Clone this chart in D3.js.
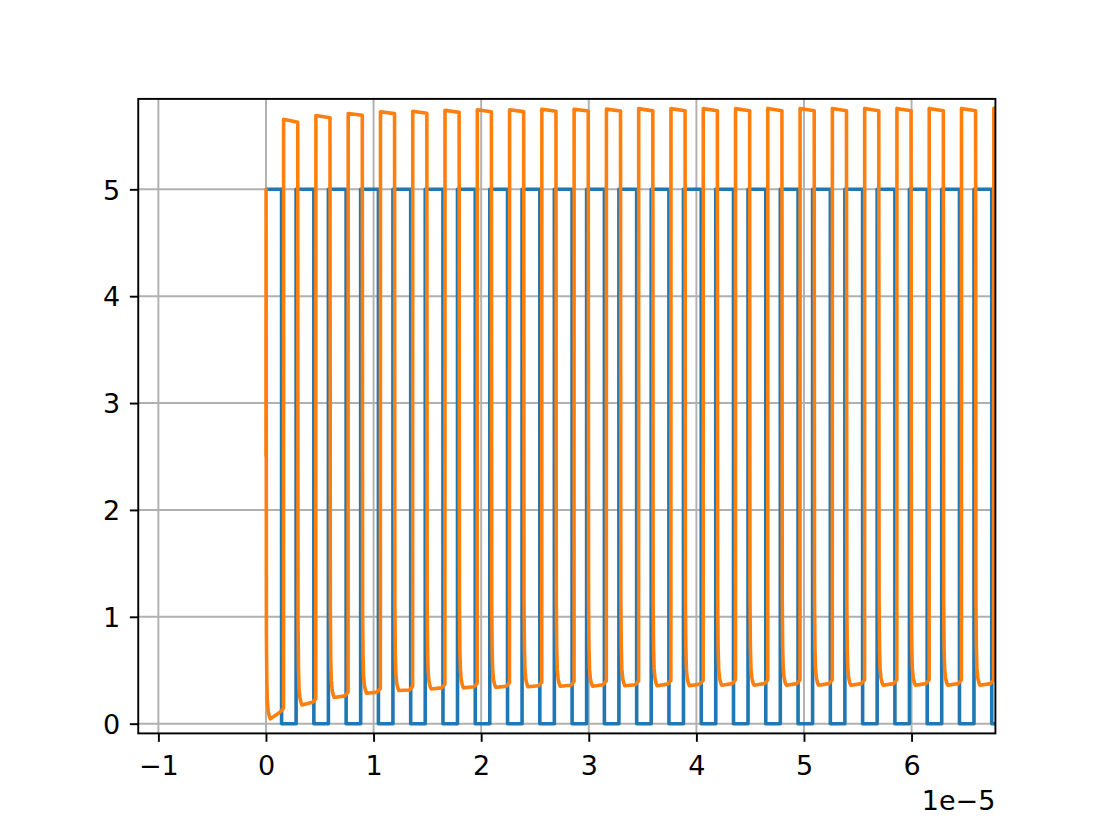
<!DOCTYPE html>
<html>
<head>
<meta charset="utf-8">
<script src="https://cdn.jsdelivr.net/npm/d3@7"></script>
<style>
  body{margin:0;background:#fff;}
  text{font-family:"DejaVu Sans",sans-serif;}
</style>
</head>
<body>
<script>
// times in microseconds
var blueFallUs=[1.45,4.45,7.45,10.45,13.45,16.45,19.45,22.45,25.45,28.45,31.45,34.45,37.45,40.45,43.45,46.45,49.45,52.45,55.45,58.45,61.45,64.45,67.45]
var blueRiseUs=[2.8,5.8,8.8,11.8,14.8,17.8,20.8,23.8,26.8,29.8,32.8,35.8,38.8,41.8,44.8,47.8,50.8,53.8,56.8,59.8,62.8,65.8]
var blueHigh=5
var blueLow=0
var blueEndUs=68.2

var orangeRiseUs=[1.63,4.63,7.63,10.63,13.63,16.63,19.63,22.63,25.63,28.63,31.63,34.63,37.63,40.63,43.63,46.63,49.63,52.63,55.63,58.63,61.63,64.63,67.63]
var orangeFallUs=[2.95,5.95,8.95,11.95,14.95,17.95,20.95,23.95,26.95,29.95,32.95,35.95,38.95,41.95,44.95,47.95,50.95,53.95,56.95,59.95,62.95,65.95]
var orangePeak=[5.655,5.69,5.71,5.725,5.73,5.74,5.745,5.745,5.75,5.75,5.75,5.755,5.755,5.755,5.755,5.757,5.757,5.757,5.757,5.757,5.757,5.757,5.757]
var orangePeakEnd=[5.628,5.67,5.693,5.708,5.712,5.72,5.725,5.727,5.73,5.732,5.733,5.734,5.735,5.735,5.735,5.736,5.736,5.736,5.736,5.736,5.736,5.736]
var orangeTrough=[0.045,0.175,0.245,0.285,0.31,0.325,0.335,0.34,0.345,0.35,0.35,0.355,0.355,0.355,0.36,0.36,0.36,0.36,0.36,0.36,0.36,0.36,0.36]
var orangeLowEnd=[0.145,0.235,0.295,0.33,0.35,0.37,0.38,0.385,0.39,0.395,0.4,0.4,0.405,0.405,0.41,0.41,0.41,0.41,0.41,0.41,0.41,0.41,0.41]
// shape of the fall tail: [us after fall, volts above trough]
var tailShape=[[0.03,0.8],[0.07,0.35],[0.12,0.16],[0.2,0.07],[0.3,0.025],[0.4,0]]
var orangeStart=[[0,2.5],[0.01,5.0]]

var xTicks=[-1e-5,0,1e-5,2e-5,3e-5,4e-5,5e-5,6e-5]
var yTicks=[0,1,2,3,4,5]
var xDomain=[-1.187e-5,6.779e-5]
var yDomain=[-0.091,5.846]

var screen={width:1106,height:824}
var margin={left:138.25,right:995.4,top:98.9,bottom:733.4}
var pt=172.8/72
var fontPx=27

var x=d3.scaleLinear().domain(xDomain).range([margin.left,margin.right])
var y=d3.scaleLinear().domain(yDomain).range([margin.bottom,margin.top])

// build blue square wave from the edge lists
var blue=[[0,blueHigh]]
blueFallUs.forEach(function(t,i){
  blue.push([t,blueHigh])
  blue.push([t,blueLow])
  if(i<blueRiseUs.length){
    blue.push([blueRiseUs[i],blueLow])
    blue.push([blueRiseUs[i],blueHigh])
  }
})
blue.push([blueEndUs,blueLow])

// build orange from the per-period values
var orange=orangeStart.slice()
orangeRiseUs.forEach(function(tr,j){
  var tf=j==0?orangeStart[1][0]:orangeFallUs[j-1]
  if(j>0){orange.push([tf,orangePeakEnd[j-1]])}
  tailShape.forEach(function(s){
    orange.push([tf+s[0],orangeTrough[j]+s[1]])
  })
  orange.push([tr-0.3,orangeLowEnd[j]-0.035])
  orange.push([tr,orangeLowEnd[j]])
  orange.push([tr+0.01,orangePeak[j]])
  if(j==orangeRiseUs.length-1){orange.push([tr+0.5,orangePeak[j]])}
})

var svg=d3.select("body")
          .append("svg")
          .attr("width",screen.width)
          .attr("height",screen.height)

svg.append("defs").append("clipPath")
   .attr("id","plotclip")
   .append("rect")
   .attr("x",margin.left)
   .attr("y",margin.top)
   .attr("width",margin.right-margin.left)
   .attr("height",margin.bottom-margin.top)

// grid
svg.append("g")
   .selectAll("line.xg")
   .data(xTicks)
   .enter()
   .append("line")
   .attr("x1",function(d){return x(d)})
   .attr("x2",function(d){return x(d)})
   .attr("y1",margin.top)
   .attr("y2",margin.bottom)
   .attr("stroke","#b0b0b0")
   .attr("stroke-width",0.8*pt)
svg.append("g")
   .selectAll("line.yg")
   .data(yTicks)
   .enter()
   .append("line")
   .attr("y1",function(d){return y(d)})
   .attr("y2",function(d){return y(d)})
   .attr("x1",margin.left)
   .attr("x2",margin.right)
   .attr("stroke","#b0b0b0")
   .attr("stroke-width",0.8*pt)

var line=d3.line()
           .x(function(d){return x(d[0]*1e-6)})
           .y(function(d){return y(d[1])})

var plot=svg.append("g").attr("clip-path","url(#plotclip)")
plot.append("path")
    .attr("d",line(blue))
    .attr("fill","none")
    .attr("stroke","#1f77b4")
    .attr("stroke-width",1.5*pt)
    .attr("stroke-linejoin","round")
plot.append("path")
    .attr("d",line(orange))
    .attr("fill","none")
    .attr("stroke","#ff7f0e")
    .attr("stroke-width",1.5*pt)
    .attr("stroke-linejoin","round")

// axes
var xAxis=d3.axisBottom(x)
            .tickValues(xTicks)
            .tickSize(3.5*pt)
            .tickPadding(3.5*pt)
            .tickFormat(function(d){
              var v=Math.round(d*1e5)
              return v<0?"\u2212"+Math.abs(v):""+v
            })
var yAxis=d3.axisLeft(y)
            .tickValues(yTicks)
            .tickSize(3.5*pt)
            .tickPadding(3.5*pt)
            .tickFormat(d3.format("d"))

var gx=svg.append("g")
          .attr("transform","translate(0,"+margin.bottom+")")
          .call(xAxis)
var gy=svg.append("g")
          .attr("transform","translate("+margin.left+",0)")
          .call(yAxis)
;[gx,gy].forEach(function(g){
  g.select(".domain").remove()
  g.selectAll(".tick line")
   .attr("stroke","black")
   .attr("stroke-width",0.8*pt)
  g.selectAll(".tick text")
   .attr("fill","black")
   .style("font-size",fontPx+"px")
   .style("font-family","DejaVu Sans")
})
gx.selectAll(".tick text").attr("dy",null).attr("y",41.5)
gy.selectAll(".tick text").attr("dy",null).attr("y",9.8).attr("x",-18)

// spines
svg.append("rect")
   .attr("x",margin.left)
   .attr("y",margin.top)
   .attr("width",margin.right-margin.left)
   .attr("height",margin.bottom-margin.top)
   .attr("fill","none")
   .attr("stroke","black")
   .attr("stroke-width",0.8*pt)

// offset text
svg.append("text")
   .attr("x",margin.right)
   .attr("y",810)
   .attr("text-anchor","end")
   .style("font-size",fontPx+"px")
   .text("1e\u22125")
</script>
</body>
</html>
